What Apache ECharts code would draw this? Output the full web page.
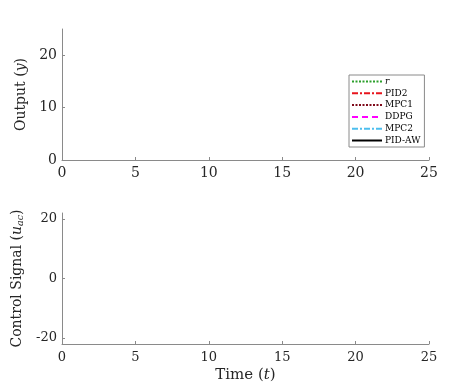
<!DOCTYPE html>
<html><head><meta charset="utf-8">
<script src="https://cdn.jsdelivr.net/npm/echarts@6/dist/echarts.min.js"></script>
<style>html,body{margin:0;padding:0;background:#fff}#c{width:474px;height:387px}</style>
</head><body><div id="c"></div>
<script>
const seriesNames = ['r', 'PID2', 'MPC1', 'DDPG', 'MPC2', 'PID-AW'];
const seriesColors = ['#2ca02c', '#e8141c', '#7f0a1a', '#ff00ff', '#4dbeee', '#000000'];
const seriesDash = [[2, 1.5], [6, 2, 2, 2], [2, 1.5], [6, 4], [6, 2, 2, 2], 'solid'];
// No data visible in the reference plots: both panels are empty
const outputData = [[], [], [], [], [], []];
const controlData = [[], [], [], [], [], []];
const xTicks = [0, 5, 10, 15, 20, 25];
const yTopTicks = [0, 10, 20];
const yBotTicks = [-20, 0, 20];

const FONT = 'DejaVu Serif';
const axisCol = '#8a8a8a';
const txtCol = '#262626';

function xAxis(gi, name, fs, margin) {
  return {
    type: 'value', gridIndex: gi, min: 0, max: 25, interval: 5,
    axisLine: {show: true, onZero: false, lineStyle: {color: axisCol, width: 1}},
    axisTick: {show: true, inside: true, length: 3, lineStyle: {color: axisCol}, customValues: xTicks},
    splitLine: {show: false},
    axisLabel: {color: txtCol, fontFamily: FONT, fontSize: fs, margin: margin, customValues: xTicks},
    name: name || '', nameLocation: 'middle', nameGap: 24,
    nameTextStyle: {
      color: txtCol, fontFamily: FONT, fontSize: 15,
      rich: {i: {fontStyle: 'italic', fontFamily: FONT, fontSize: 15, color: txtCol}}
    }
  };
}

const series = [];
seriesNames.forEach((n, k) => {
  series.push({
    name: n, type: 'line', xAxisIndex: 0, yAxisIndex: 0, data: outputData[k],
    symbol: 'none', color: seriesColors[k],
    lineStyle: {color: seriesColors[k], width: 2, type: seriesDash[k]}
  });
  series.push({
    name: n, type: 'line', xAxisIndex: 1, yAxisIndex: 1, data: controlData[k],
    symbol: 'none', color: seriesColors[k],
    lineStyle: {color: seriesColors[k], width: 2, type: seriesDash[k]}
  });
});

const chart = echarts.init(document.getElementById('c'));
chart.setOption({
  backgroundColor: '#fff',
  animation: false,
  grid: [
    {left: 62, width: 367, top: 29, height: 131},
    {left: 62, width: 367, top: 213, height: 131}
  ],
  xAxis: [xAxis(0, '', 14, 6), xAxis(1, 'Time ({i|t})', 13, 7)],
  yAxis: [
    {
      type: 'value', gridIndex: 0, min: 0, max: 25,
      axisLine: {show: true, onZero: false, lineStyle: {color: axisCol}},
      axisTick: {show: true, inside: true, length: 3, lineStyle: {color: axisCol}, customValues: yTopTicks},
      splitLine: {show: false},
      axisLabel: {color: txtCol, fontFamily: FONT, fontSize: 14, margin: 5, customValues: yTopTicks},
      name: 'Output ({i|y})', nameLocation: 'middle', nameGap: 31,
      nameTextStyle: {color: txtCol, fontFamily: FONT, fontSize: 14,
        rich: {i: {fontStyle: 'italic', fontFamily: FONT, fontSize: 14, color: txtCol}}}
    },
    {
      type: 'value', gridIndex: 1, min: -22, max: 22,
      axisLine: {show: true, onZero: false, lineStyle: {color: axisCol}},
      axisTick: {show: true, inside: true, length: 3, lineStyle: {color: axisCol}, customValues: yBotTicks},
      splitLine: {show: false},
      axisLabel: {color: txtCol, fontFamily: FONT, fontSize: 13, margin: 5, customValues: yBotTicks},
      name: 'Control Signal ({i|u}{s|ac})', nameLocation: 'middle', nameGap: 34,
      nameTextStyle: {color: txtCol, fontFamily: FONT, fontSize: 14,
        rich: {
          i: {fontStyle: 'italic', fontFamily: FONT, fontSize: 14, color: txtCol},
          s: {fontStyle: 'italic', fontFamily: FONT, fontSize: 9.5, color: txtCol, padding: [6, 0, 0, 0]}
        }}
    }
  ],
  legend: {
    orient: 'vertical', left: 349, top: 75,
    data: seriesNames,
    itemWidth: 30, itemHeight: 9, itemGap: 2.8,
    padding: [2, 4, 2, 2],
    borderColor: '#8a8a8a', borderWidth: 1, backgroundColor: '#fff',
    itemStyle: {opacity: 0},
    formatter: function (name) { return name === 'r' ? '{it|r}' : name; },
    textStyle: {fontFamily: FONT, fontSize: 9, lineHeight: 9, color: '#000', padding: [0, 0, 0, -2],
      rich: {it: {fontStyle: 'italic', fontFamily: FONT, fontSize: 9, color: '#000'}}},
    selectedMode: false
  },
  series: series
});
</script>
</body></html>
